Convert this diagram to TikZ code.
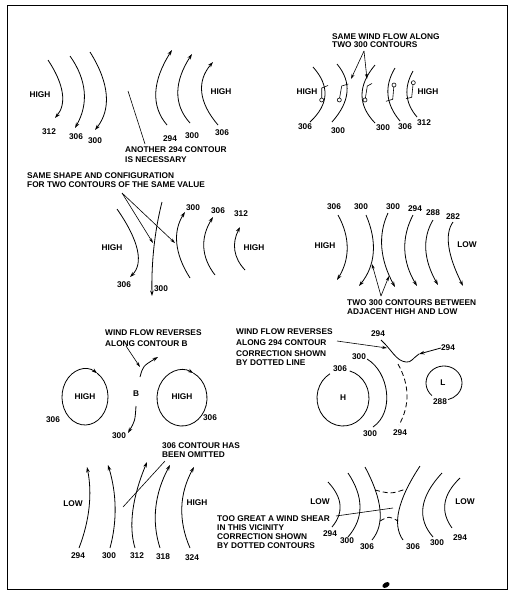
\documentclass[tikz,border=0pt]{standalone}
\usepackage{fontspec}
\setsansfont{Liberation Sans}
\usetikzlibrary{arrows.meta}

\begin{document}
\begin{tikzpicture}[
  x=1pt, y=-1pt,
  lbl/.style={font=\sffamily\bfseries\fontsize{8.3}{9.3}\selectfont, inner sep=0pt},
  note/.style={lbl, align=left, anchor=north west},
  cont/.style={line width=0.8pt},
  flow/.style={cont, -{Stealth[length=5.5pt, width=3.6pt]}},
  dashcont/.style={cont, dash pattern=on 5pt off 3pt},
  ptr/.style={line width=0.6pt},
  ptrarr/.style={ptr, -{Stealth[length=5pt, width=3pt]}},
  barb/.style={line width=0.6pt}
]
  \useasboundingbox (0,0) rectangle (520,595);
  \draw[line width=1pt] (7,5) rectangle (507,589);

  % contour values
  \foreach \px/\py/\txt/\nm in {49/132/312/c1a, 76/137/306/c1b, 95/141/300/c1c, 170/139/294/c1d,
      192/136/300/c1e, 222/133/306/c1f, 305/127/306/c2a, 338/131/300/c2b, 383/128/300/c2c,
      405/127/306/c2d, 424/123/312/c2e, 124/285/306/c3a, 161/289/300/c3b, 193/208/300/c3c,
      218/211/306/c3d, 241/214/312/c3e, 334/207/306/c4a, 361/207/300/c4b, 393/207/300/c4c,
      415/209/294/c4d, 433/213/288/c4e, 453/217/282/c4f, 53/420/306/c5a, 210/418/306/c5b,
      119/436/300/c5c, 340/369/306/c6c, 359/357/300/c6d, 370/434/300/c6e, 400/433/294/c6f,
      440/402/288/c6g, 78/556/294/c7a, 109/556/300/c7b, 137/556/312/c7c, 163/557/318/c7d,
      192/558/324/c7e, 330/534/294/c8a, 347/541/300/c8b, 367/547/306/c8c, 413/547/306/c8d,
      437/543/300/c8e, 460/538/294/c8f}
    \node[lbl] (\nm) at (\px,\py) {\txt};

  \foreach \px/\py/\txt/\nm in {40/95/HIGH/h1a, 221/92/HIGH/h1b, 307/92/HIGH/h2a, 428/92/HIGH/h2b,
      112/248/HIGH/h3a, 254/248/HIGH/h3b, 325/246/HIGH/h4a, 467/245/LOW/h4b, 85/397/HIGH/h5a,
      182/397/HIGH/h5b, 343/398/H/h6a, 443/383/L/h6b, 73/504/LOW/h7a, 197/503/HIGH/h7b,
      320/502/LOW/h8a, 465/502/LOW/h8b}
    \node[lbl] (\nm) at (\px,\py) {\txt};

  % panel 1
  \draw[flow] (48,60) .. controls (64.33,84.67) and (66.67,104) .. (55,118);
  \draw[flow] (70,56) .. controls (87,80) and (88.67,104) .. (75,128);
  \draw[flow] (90,52) .. controls (109.67,83.33) and (111.33,109.33) .. (95,130);
  \draw[flow] (167,125) .. controls (150.67,106) and (152.33,81) .. (172,50);
  \draw[flow] (190,123) .. controls (173.33,104.67) and (174,81.67) .. (192,54);
  \draw[flow] (218,125) .. controls (198.33,102) and (196.67,81) .. (213,62);
  \node[note] (nt1) at (125,147) {ANOTHER 294 CONTOUR\\IS NECESSARY};
  \coordinate (s1) at (145,144);
  \coordinate (t1) at (128,91);
  \draw[ptr] (s1) -- (t1);

  % panel 2
  \draw[cont] (313,67) .. controls (330,86) and (329,104.33) .. (310,122);
  \draw[cont] (337,64) .. controls (352,82) and (350.33,101.33) .. (332,122);
  \draw[cont] (375,65) .. controls (357.67,85.67) and (357.67,105) .. (375,123);
  \draw[cont] (395,68) .. controls (384,86.33) and (385.67,104) .. (400,121);
  \draw[cont] (413,71) .. controls (403.67,87.67) and (405,103) .. (417,117);
  \draw[barb] (321.7,100) circle[radius=2] (321.7,98) -- (321.7,88) -- (328,85.5);
  \draw[barb] (339.3,100) circle[radius=2] (339.6,98) -- (341.7,86) -- (348.3,84);
  \draw[barb] (365,100) circle[radius=2] (365.4,98) -- (367.3,86) -- (372,83.5);
  \draw[barb] (394,85) circle[radius=2] (393.8,87) -- (392.7,99.3) -- (386,101.3);
  \draw[barb] (413.3,82.7) circle[radius=2] (413,84.7) -- (411.7,97.3) -- (406,98.7);
  \node[note] (nt2) at (332,33.5) {SAME WIND FLOW ALONG\\[-1pt]TWO 300 CONTOURS};
  \coordinate (s2) at (364,51);
  \coordinate (t2a) at (351,79);
  \coordinate (t2b) at (367,79);
  \draw[ptrarr] (s2) -- (t2a);
  \draw[ptrarr] (s2) -- (t2b);

  % panel 3
  \draw[flow] (117,209) .. controls (139.33,241) and (143.67,263.67) .. (130,277);
  \draw[flow] (162,202) .. controls (154.67,230.67) and (151.33,262) .. (152,296);
  \draw[flow] (190,278) .. controls (174.33,253.33) and (172.67,231.33) .. (185,212);
  \draw[flow] (215,275) .. controls (201,257) and (200.33,237.67) .. (213,217);
  \draw[flow] (245,270) .. controls (233.33,257.67) and (231.67,243.33) .. (240,227);
  \node[note] (nt3) at (27,172) {SAME SHAPE AND CONFIGURATION\\FOR TWO CONTOURS OF THE SAME VALUE};
  \coordinate (s3) at (122,193);
  \coordinate (t3a) at (153,243);
  \coordinate (t3b) at (175,243);
  \draw[ptrarr] (s3) -- (t3a);
  \draw[ptrarr] (s3) -- (t3b);

  % panel 4
  \draw[flow] (338,215) .. controls (350.33,237.33) and (350,259) .. (337,280);
  \draw[flow] (366,215) .. controls (377.67,242) and (375.33,265.67) .. (359,286);
  \draw[flow] (388,213) .. controls (377.67,235) and (380,259.67) .. (395,287);
  \draw[flow] (413,215) .. controls (401,238) and (402.33,261.67) .. (417,286);
  \draw[flow] (433,220) .. controls (422,238.33) and (423.67,260) .. (438,285);
  \draw[flow] (453,222) .. controls (444.33,234) and (447.67,255.33) .. (463,286);
  \node[note] (nt4) at (347,299) {TWO 300 CONTOURS BETWEEN\\ADJACENT HIGH AND LOW};
  \coordinate (s4) at (381,296);
  \coordinate (t4a) at (372,264);
  \coordinate (t4b) at (389,276);
  \draw[ptrarr] (s4) -- (t4a);
  \draw[ptrarr] (s4) -- (t4b);

  % panel 5
  \draw[flow] (85,397) ++(-58:23 and 28) arc[start angle=-58, end angle=302, x radius=23, y radius=28];
  \draw[flow] (182,398) ++(-63:25 and 28) arc[start angle=-63, end angle=297, x radius=25, y radius=28];
  \node[lbl] (cb) at (136,394) {B};
  \draw[flow] (140,377) .. controls (143,366) .. (158,357);
  \draw[flow] (136,406) .. controls (135,421) .. (128,433);
  \node[note] (nt5) at (105,329) {WIND FLOW REVERSES\\[1.7pt]ALONG CONTOUR B};
  \coordinate (s5) at (126,346);
  \coordinate (t5) at (140,367);
  \draw[ptrarr] (s5) -- (t5);

  % panel 6
  \draw[cont] (343,398) ++(285:26 and 28) arc[start angle=285, end angle=600, x radius=26, y radius=28];
  \draw[cont] (367,359) .. controls (389,372) and (395,412) .. (373,427);
  \node[lbl] (c6a) at (378,334) {294};
  \node[lbl] (c6b) at (448,348) {294};
  \coordinate (tip6) at (419,354);
  \draw[flow] (c6b.west) -- (tip6);
  \draw[cont] (tip6) .. controls (413,358) and (411,363) .. (406,362)
    .. controls (396,361) and (392,350) .. (381,340);
  \draw[dashcont] (398,364) .. controls (409.67,385) and (410,405.33) .. (399,425);
  \draw[cont] (444,383) ++(132:18 and 17) arc[start angle=132, end angle=437, x radius=18, y radius=17];
  \node[note] (nt6) at (236,328) {WIND FLOW REVERSES\\[1.7pt]ALONG 294 CONTOUR\\[1.7pt]CORRECTION SHOWN\\BY DOTTED LINE};
  \coordinate (s6) at (337,341);
  \coordinate (t6) at (387,348);
  \draw[ptrarr] (s6) -- (t6);

  % panel 7
  \draw[flow] (79,548) .. controls (89.67,520.33) and (92.33,493.33) .. (87,467);
  \draw[flow] (110,548) .. controls (117.33,521) and (116.67,493.33) .. (108,465);
  \draw[flow] (135,548) .. controls (128.33,526) and (132.33,497.33) .. (147,462);
  \draw[flow] (160,548) .. controls (151.33,521) and (154.67,493.33) .. (170,465);
  \draw[flow] (190,548) .. controls (178,520.33) and (179.33,493.33) .. (194,467);
  \node[note] (nt7) at (162,442) {306 CONTOUR HAS\\BEEN OMITTED};
  \coordinate (s7) at (165,461);
  \coordinate (t7) at (123,507);
  \draw[ptr] (s7) -- (t7);

  % panel 8
  \draw[cont] (328,482) .. controls (342.67,497.67) and (344,512.67) .. (332,527);
  \draw[cont] (348,473) .. controls (364,497) and (364,518.33) .. (348,537);
  \draw[cont] (365,467) .. controls (382.67,500) and (385,524.33) .. (372,540);
  \draw[cont] (420,466) .. controls (397.67,500) and (392,524.67) .. (403,540);
  \draw[cont] (442,473) .. controls (419.67,497) and (416.67,518.33) .. (433,537);
  \draw[cont] (460,478) .. controls (442.67,494.67) and (440,511.33) .. (452,528);
  \draw[dashcont] (375,490) .. controls (391,494) .. (406,489);
  \draw[dashcont] (380,521) .. controls (389,516) .. (398,521);
  \node[note] (nt8) at (217,515) {TOO GREAT A WIND SHEAR\\IN THIS VICINITY\\CORRECTION SHOWN\\BY DOTTED CONTOURS};
  \coordinate (s8) at (336,516);
  \coordinate (t8) at (393,508);
  \draw[ptr] (s8) -- (t8);

  \fill[rotate around={30:(386,585)}] (386,585) ellipse[x radius=4, y radius=2.5];
\end{tikzpicture}
\end{document}
